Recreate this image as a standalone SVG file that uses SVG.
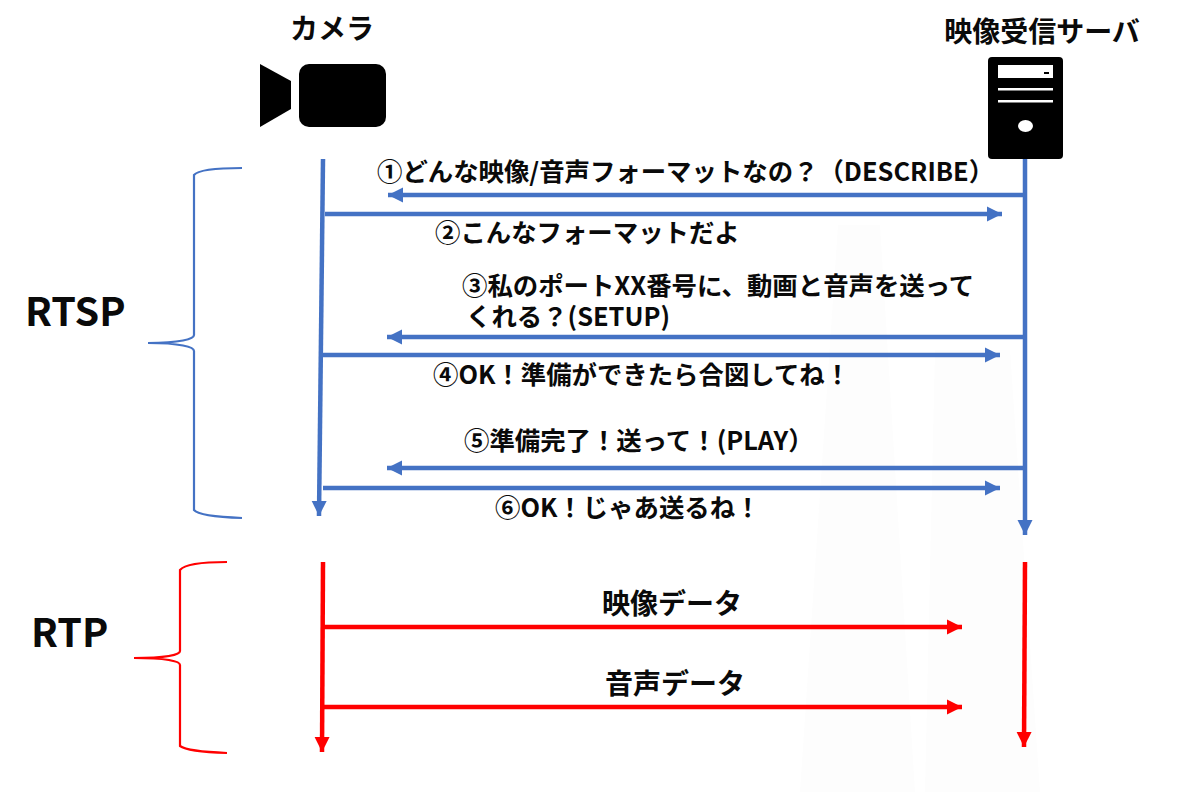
<svg xmlns="http://www.w3.org/2000/svg" width="1200" height="792" viewBox="0 0 1200 792">
<style>
text{font-family:"Noto Sans CJK JP",sans-serif;font-weight:700;fill:#0a0a0a;font-size:25.400px}
.lb{font-size:39.500px}
.h{font-size:28px}
.b{stroke:#4472c4;stroke-width:4.500;fill:none}
.r{stroke:#ff0000;stroke-width:4.500;fill:none}
.bt{stroke:#4472c4;stroke-width:2.200;fill:none}
.rt{stroke:#ff0000;stroke-width:2.200;fill:none}
</style>
<defs>
<marker id="ab" markerUnits="userSpaceOnUse" markerWidth="18" markerHeight="18" refX="15" refY="9" orient="auto"><path d="M0 1.500L15 9L0 16.500Z" fill="#4472c4"/></marker>
<marker id="ar" markerUnits="userSpaceOnUse" markerWidth="18" markerHeight="18" refX="15" refY="9" orient="auto"><path d="M0 1.500L15 9L0 16.500Z" fill="#ff0000"/></marker>
</defs>
<rect width="1200" height="792" fill="#fff"/>
<g id="bg"><path d="M838 225L880 225L915 792L800 792Z" fill="#fdfdfd"/><path d="M935 350L1010 350L1040 792L925 792Z" fill="#fdfdfd"/></g>
<g id="camera">
<text class="h" x="332" y="39" text-anchor="middle">カメラ</text>
<path d="M260 64L291 81V109L260 127Z" fill="#000"/>
<rect x="299" y="64" width="87" height="63" rx="10" fill="#000"/>
</g>
<g id="server">
<text class="h" x="1042" y="42" text-anchor="middle">映像受信サーバ</text>
<rect x="988" y="57" width="75" height="102" rx="4" fill="#000"/>
<rect x="998" y="65" width="55" height="13" fill="#fff"/>
<rect x="1044" y="72" width="5" height="2" fill="#000"/>
<rect x="998" y="88" width="55" height="2.500" fill="#fff"/>
<rect x="998" y="100" width="55" height="2.500" fill="#fff"/>
<ellipse cx="1025.500" cy="126" rx="7.500" ry="6" fill="#fff"/>
</g>
<g id="connectors">
<path class="b" d="M323 159L319 516" marker-end="url(#ab)"/>
<path class="b" d="M1025 159V535" marker-end="url(#ab)"/>
<path class="b" d="M1025 195H388" marker-end="url(#ab)"/>
<path class="b" d="M325 214H1002" marker-end="url(#ab)"/>
<path class="b" d="M1025 337H387" marker-end="url(#ab)"/>
<path class="b" d="M323 355H1000" marker-end="url(#ab)"/>
<path class="b" d="M1025 468H387" marker-end="url(#ab)"/>
<path class="b" d="M323 488H1000" marker-end="url(#ab)"/>
<path class="r" d="M323 562L322 752" marker-end="url(#ar)"/>
<path class="r" d="M1025 562L1024 747" marker-end="url(#ar)"/>
<path class="r" d="M323 627H962" marker-end="url(#ar)"/>
<path class="r" d="M323 707H962" marker-end="url(#ar)"/>
</g>
<g id="rtsp">
<path class="bt" d="M242 168C215 168 198 170 194 175V335C194 339 180 343 148 343C180 343 194 347 194 351V510C198 515 215 517 242 518"/>
<text class="lb" x="25" y="326">RTSP</text>
</g>
<g id="rtp">
<path class="rt" d="M227 562C200 562 184 565 180 570V651C180 655 165 658 134 658C165 658 180 661 180 665V746C184 749 200 752 227 753"/>
<text class="lb" x="31" y="647">RTP</text>
</g>
<g id="labels">
<text x="377" y="181">①どんな映像/音声フォーマットなの？（DESCRIBE）</text>
<text x="435" y="242">②こんなフォーマットだよ</text>
<text x="462" y="295">③私のポートXX番号に、動画と音声を送って</text>
<text x="466" y="326">くれる？(SETUP)</text>
<text x="433" y="384">④OK！準備ができたら合図してね！</text>
<text x="464" y="450">⑤準備完了！送って！(PLAY）</text>
<text x="495" y="517">⑥OK！じゃあ送るね！</text>
<text class="h" x="672" y="614" text-anchor="middle">映像データ</text>
<text class="h" x="675" y="694" text-anchor="middle">音声データ</text>
</g>
</svg>
